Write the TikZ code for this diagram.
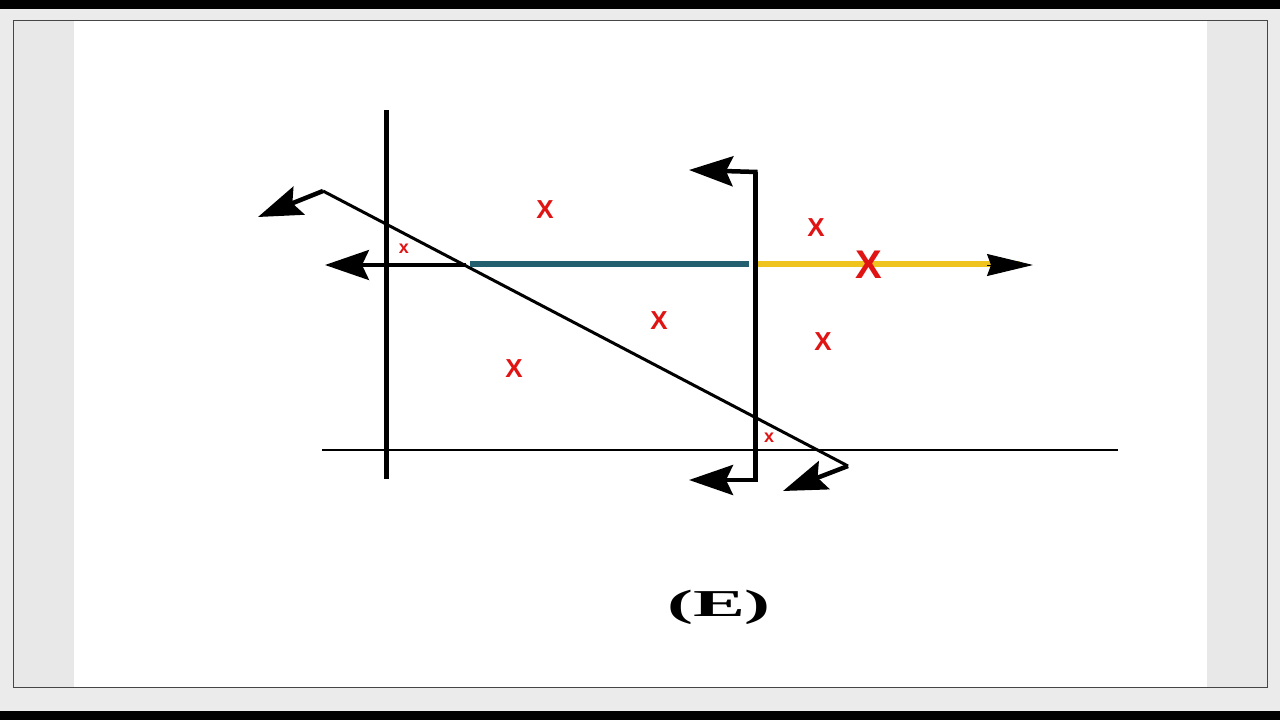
\documentclass[tikz,border=0pt]{standalone}
\usepackage{fontspec}
\setmainfont{Liberation Serif}
\newfontfamily\mksans{Liberation Sans}
\usetikzlibrary{arrows.meta}
\definecolor{bggray}{RGB}{235,235,235}
\definecolor{colgray}{RGB}{232,232,232}
\definecolor{framegray}{RGB}{70,70,70}
\definecolor{tealline}{RGB}{35,95,110}
\definecolor{yellowline}{RGB}{240,196,30}
\definecolor{markred}{RGB}{225,20,20}
\tikzset{
  thickbar/.style={line width=5pt},
  thinline/.style={line width=2.5pt},
  bigtip/.style={-{Stealth[length=44pt,width=30pt,inset=7pt]}},
  xmark/.style={text=markred, font=\mksans\bfseries\fontsize{26}{26}\selectfont, inner sep=0pt},
  xsmall/.style={text=markred, font=\mksans\bfseries\fontsize{18}{18}\selectfont, inner sep=0pt},
  xbig/.style={text=markred, font=\mksans\bfseries\fontsize{40}{40}\selectfont, inner sep=0pt}
}
\begin{document}
\begin{tikzpicture}[x=1pt,y=-1pt]
\useasboundingbox (0,0) rectangle (1280,720);
% background & frame
\fill[bggray] (0,0) rectangle (1280,720);
\fill[black] (0,0) rectangle (1280,9);
\fill[black] (0,711) rectangle (1280,720);
\fill[colgray] (14,21) rectangle (1267,687);
\fill[white] (74,21) rectangle (1207,687);
\draw[framegray, line width=1.2pt] (13.5,20.5) rectangle (1267.5,687.5);

% coordinates
\coordinate (L1t) at (386,110);
\coordinate (L1b) at (386,479);
\coordinate (Bl) at (322,450);
\coordinate (Br) at (1118,450);
\coordinate (Dt) at (323,191);
\coordinate (Db) at (848,466);
\coordinate (DtTip) at (258,217);
\coordinate (DbTip) at (783,491);
\coordinate (Hx) at (466,265);
\coordinate (HlTip) at (325,265);
\coordinate (Tstart) at (470,264);
\coordinate (Tend) at (749,264);
\coordinate (Ystart) at (755,264);
\coordinate (Yend) at (1020,264);
\coordinate (YTip) at (1033,265);
\coordinate (Rtop) at (755,172);
\coordinate (Rbot) at (755,480);
\coordinate (RtTip) at (689,170);
\coordinate (RbTip) at (689,480);

% main lines
\draw[thickbar] (L1t) -- (L1b);
\draw[thinline] (Bl) -- (Br);
\draw[line width=3pt] (Dt) -- (Db);
\draw[line width=4.5pt, bigtip] (Dt) -- (DtTip);
\draw[line width=4.5pt, bigtip] (Db) -- (DbTip);

% horizontal at y=265
\draw[line width=3.5pt, bigtip] (Hx) -- (HlTip);
\draw[line width=6pt, tealline] (Tstart) -- (Tend);
\draw[line width=6pt, yellowline] (Ystart) -- (Yend);
\draw[line width=1pt, -{Stealth[length=46pt,width=22pt,inset=4pt]}, black] (987,265) -- (YTip);

% right vertical with hooks
\draw[thickbar] (Rtop) -- (Rbot);
\draw[line width=4.5pt, bigtip] ([xshift=2.5pt]Rtop) -- (RtTip);
\draw[line width=4.5pt, bigtip] ([xshift=2.5pt]Rbot) -- (RbTip);

% red marks
\node[xmark] (m1) at (545,210) {X};
\node[xmark] (m2) at (816,228) {X};
\node[xmark] (m3) at (659,321) {X};
\node[xmark] (m4) at (514,369) {X};
\node[xmark] (m5) at (823,342) {X};
\node[xbig] (m6) at (869,265) {X};
\node[xsmall] (m7) at (404,249) {x};
\node[xsmall] (m8) at (769,438) {x};

% label
\node (lbl) at (719,607) {\scalebox{2.05}[1]{\fontsize{38}{38}\selectfont\bfseries (E)}};
\end{tikzpicture}
\end{document}
